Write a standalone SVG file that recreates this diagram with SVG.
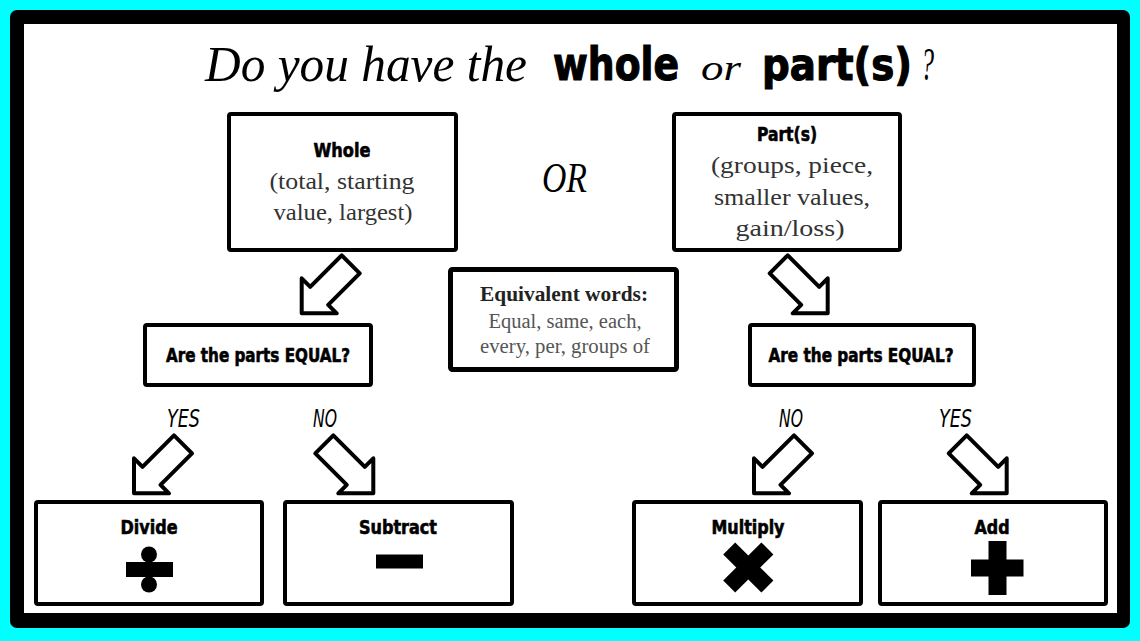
<svg xmlns="http://www.w3.org/2000/svg" width="1140" height="641" viewBox="0 0 1140 641">
<style>
.box{fill:#fff;stroke:#000;stroke-width:4;}
.arrow{fill:#fff;stroke:#000;stroke-width:4;stroke-linejoin:round;}
.imp{font-family:"DejaVu Sans Condensed","DejaVu Sans",sans-serif;font-weight:bold;font-style:normal;font-stretch:condensed;fill:#000;stroke:#000;stroke-width:0.6;text-anchor:middle;}
.big{stroke-width:1.1;}
.ser{font-family:"Liberation Serif",serif;fill:#333;text-anchor:middle;}
.scr{font-family:"Liberation Serif",serif;font-style:italic;fill:#000;}
.lbl{font-family:"DejaVu Sans Condensed","DejaVu Sans",sans-serif;font-style:italic;font-stretch:condensed;fill:#000;text-anchor:middle;}
</style>
<defs>
<path id="dl" d="M0,0 L0,-35 L8.5,-26.5 L40,-58 L58,-40 L26.5,-8.5 L35,0 Z"/>
<path id="dr" d="M0,0 L0,-35 L-8.5,-26.5 L-40,-58 L-58,-40 L-26.5,-8.5 L-35,0 Z"/>
</defs>
<rect x="0" y="0" width="1140" height="641" fill="#00ffff"/>
<rect x="10" y="10" width="1120" height="618" rx="7" fill="#000"/>
<rect x="24" y="24" width="1093" height="589" fill="#fff"/>

<g id="title">
<text class="scr" y="81" font-size="50"><tspan x="205" textLength="322" lengthAdjust="spacingAndGlyphs">Do you have the</tspan><tspan class="imp big" x="553" y="80" font-size="47" style="text-anchor:start" textLength="126" lengthAdjust="spacingAndGlyphs">whole</tspan><tspan x="701" y="80" font-size="36" textLength="40" lengthAdjust="spacingAndGlyphs">or</tspan><tspan class="imp big" x="762" y="80" font-size="45" style="text-anchor:start" textLength="150" lengthAdjust="spacingAndGlyphs">part(s)</tspan><tspan x="921" y="80" font-size="46" textLength="13" lengthAdjust="spacingAndGlyphs">?</tspan></text>
</g>

<g id="whole">
<rect class="box" x="229" y="114" width="227" height="136" rx="2"/>
<text class="imp" x="342" y="157" font-size="20" textLength="57" lengthAdjust="spacingAndGlyphs">Whole</text>
<text class="ser" x="342" y="189" font-size="24" textLength="145" lengthAdjust="spacingAndGlyphs">(total, starting</text>
<text class="ser" x="343" y="220" font-size="24" textLength="139" lengthAdjust="spacingAndGlyphs">value, largest)</text>
</g>

<g id="or">
<text class="scr" x="542" y="192" font-size="42" textLength="45" lengthAdjust="spacingAndGlyphs">OR</text>
</g>

<g id="parts">
<rect class="box" x="674" y="114" width="226" height="136" rx="2"/>
<text class="imp" x="787" y="141" font-size="20" textLength="60" lengthAdjust="spacingAndGlyphs">Part(s)</text>
<text class="ser" x="792" y="173" font-size="24" textLength="162" lengthAdjust="spacingAndGlyphs">(groups, piece,</text>
<text class="ser" x="792" y="205" font-size="24" textLength="156" lengthAdjust="spacingAndGlyphs">smaller values,</text>
<text class="ser" x="790" y="236" font-size="24" textLength="109" lengthAdjust="spacingAndGlyphs">gain/loss)</text>
</g>

<g id="equivalent">
<rect class="box" x="450.5" y="269.5" width="226" height="100" rx="2" style="stroke-width:5"/>
<text class="ser" x="564" y="301" font-size="20" font-weight="bold" style="fill:#222" textLength="168" lengthAdjust="spacingAndGlyphs">Equivalent words:</text>
<text class="ser" x="565" y="328" font-size="20" style="fill:#555" textLength="153" lengthAdjust="spacingAndGlyphs">Equal, same, each,</text>
<text class="ser" x="565" y="353" font-size="20" style="fill:#555" textLength="170" lengthAdjust="spacingAndGlyphs">every, per, groups of</text>
</g>

<g id="equal-left">
<rect class="box" x="145" y="325" width="226" height="60" rx="2"/>
<text class="imp" x="258" y="362" font-size="20" textLength="184" lengthAdjust="spacingAndGlyphs">Are the parts EQUAL?</text>
</g>

<g id="equal-right">
<rect class="box" x="750" y="325" width="224" height="60" rx="2"/>
<text class="imp" x="861" y="362" font-size="20" textLength="185" lengthAdjust="spacingAndGlyphs">Are the parts EQUAL?</text>
</g>

<g id="divide">
<rect class="box" x="36" y="502" width="226" height="102" rx="2"/>
<text class="imp" x="149" y="534" font-size="20" textLength="57" lengthAdjust="spacingAndGlyphs">Divide</text>
<circle cx="149" cy="554.5" r="8" fill="#000"/>
<rect x="126" y="562" width="47" height="15" fill="#000"/>
<circle cx="149" cy="584.5" r="8" fill="#000"/>
</g>

<g id="subtract">
<rect class="box" x="285" y="502" width="227" height="102" rx="2"/>
<text class="imp" x="398" y="534" font-size="20" textLength="78" lengthAdjust="spacingAndGlyphs">Subtract</text>
<rect x="376" y="554.5" width="47" height="14" fill="#000"/>
</g>

<g id="multiply">
<rect class="box" x="634" y="502" width="227" height="102" rx="2"/>
<text class="imp" x="748" y="534" font-size="20" textLength="73" lengthAdjust="spacingAndGlyphs">Multiply</text>
<g transform="translate(748.3,567.5) rotate(45)" fill="#000">
<rect x="-27" y="-8.5" width="54" height="17"/>
<rect x="-8.5" y="-27" width="17" height="54"/>
</g>
</g>

<g id="add">
<rect class="box" x="880" y="502" width="226" height="102" rx="2"/>
<text class="imp" x="992" y="534" font-size="20" textLength="35" lengthAdjust="spacingAndGlyphs">Add</text>
<rect x="988.5" y="541" width="18" height="54" fill="#000"/>
<rect x="971" y="559.5" width="52.5" height="17" fill="#000"/>
</g>

<g id="connectors">
<use href="#dl" class="arrow" transform="translate(301.7,313.3)"/>
<use href="#dr" class="arrow" transform="translate(827.7,313.3)"/>
<use href="#dl" class="arrow" transform="translate(134,493.3)"/>
<use href="#dr" class="arrow" transform="translate(373.3,493.3)"/>
<use href="#dl" class="arrow" transform="translate(754,493.3)"/>
<use href="#dr" class="arrow" transform="translate(1006.7,493.3)"/>
<text class="lbl" x="183.5" y="427" font-size="24" textLength="33" lengthAdjust="spacingAndGlyphs">YES</text>
<text class="lbl" x="325" y="427" font-size="24" textLength="24" lengthAdjust="spacingAndGlyphs">NO</text>
<text class="lbl" x="791" y="427" font-size="24" textLength="24" lengthAdjust="spacingAndGlyphs">NO</text>
<text class="lbl" x="955.5" y="427" font-size="24" textLength="33" lengthAdjust="spacingAndGlyphs">YES</text>
</g>
</svg>
